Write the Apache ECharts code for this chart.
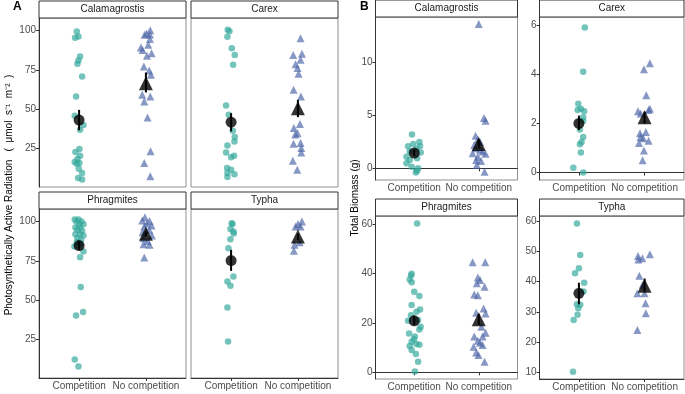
<!DOCTYPE html>
<html><head><meta charset="utf-8">
<script src="https://cdn.jsdelivr.net/npm/echarts@6/dist/echarts.min.js"></script>
<style>html,body{margin:0;padding:0;background:#fff}#c{width:685px;height:394px}</style>
</head><body><div id="c"></div>
<script>
// ---------- categories / labels ----------
const categories = ['Competition', 'No competition'];
const species = ['Calamagrostis', 'Carex', 'Phragmites', 'Typha'];
const titleA = 'Photosynthetically Active Radiation   (  μmol  s⁻¹  m⁻²  )';
const titleB = 'Total Biomass (g)';

// ---------- tick labels ----------
const ticksA = [25, 50, 75, 100];
const ticksBCala = [0, 5, 10];
const ticksBCarex = [0, 2, 4, 6];
const ticksBPhrag = [0, 20, 40, 60];
const ticksBTypha = [10, 20, 30, 40, 50, 60];

// ---------- Panel A: PAR, points as [jitter, value] ----------
const aCalaComp = [[-0.035,99.4],[-0.06,95.5],[-0.01,96.2],[0.015,83.5],[-0.01,81],[-0.025,78.8],[0.045,70.8],[-0.045,58],[-0.065,45.8],[0.065,39.8],[0.015,36.9],[0.005,24.6],[-0.055,22.7],[0.015,20.3],[-0.025,18.2],[-0.065,16.3],[0.005,15.7],[-0.035,15.2],[-0.005,12],[0.045,9.3],[-0.015,6.1],[0.045,5.1]];
const aCalaNo = [[0.065,100.2],[0.01,98.1],[0.06,97.5],[-0.02,97.3],[0.06,94.7],[0.035,90.9],[-0.075,89.2],[-0.05,87.7],[0.085,85.6],[0.015,83.9],[-0.03,77.1],[0.05,74.6],[0.075,71.8],[-0.055,59.1],[0.065,58],[-0.025,54.9],[0.025,44.7],[0.07,23.1],[-0.025,15.7],[0.065,7.2]];
const aCarexComp = [[-0.05,100.5],[-0.025,99.5],[-0.055,96],[0.01,88.8],[0.055,84.5],[0.03,78.2],[-0.075,52.3],[-0.035,46.4],[0.025,36.2],[0.055,32.2],[0.05,29.4],[-0.055,26.9],[-0.075,22.4],[0.045,20.3],[0,19.3],[-0.06,12.5],[0,11.4],[-0.055,9.3],[0.05,8.5],[-0.055,6.8]];
const aCarexNo = [[0.04,95.1],[-0.07,84.5],[0.06,85.2],[0.04,81.4],[-0.035,78.6],[-0.005,76.1],[0.01,72.5],[-0.065,62.3],[0.045,58],[0.03,40.5],[-0.06,37.9],[-0.005,34.7],[-0.04,33.9],[-0.065,28],[0.04,28.4],[0.05,25.2],[0.05,22.4],[-0.075,17.1],[-0.01,11.4]];
const aPhragComp = [[-0.065,101.3],[-0.01,101.3],[-0.04,100],[0.035,100],[0,98.3],[0.065,98.3],[-0.055,96.2],[0.015,96.2],[-0.025,94.7],[0.045,94.1],[-0.055,92],[0.015,92],[0.065,91.1],[-0.025,89.4],[0.03,88.3],[-0.035,86.9],[-0.07,84.1],[0.015,85.6],[0.065,80.9],[0.015,77.3],[0.025,58.3],[-0.045,40.2],[0.06,42.4],[-0.065,12.1],[-0.01,7.8]];
const aPhragNo = [[-0.015,102.8],[-0.055,100.6],[0.055,100.4],[0.015,98.7],[0.085,97.5],[-0.025,96.8],[0.05,94.7],[-0.05,93.2],[0.09,91.1],[-0.035,89.4],[0.025,87.7],[-0.035,85.6],[0.055,85.2],[-0.025,77.1]];
const aTyphaComp = [[0.01,98.9],[0.02,98.5],[-0.01,95.3],[0.035,93.6],[0.04,92.4],[-0.01,88.8],[-0.04,83],[0.035,65],[-0.055,61.9],[-0.01,59.1],[-0.055,45.3],[-0.045,23.7]];
const aTyphaNo = [[0.06,100],[0,98.5],[0.04,96.8],[-0.035,96.8],[0.025,86.9],[-0.05,85.2],[-0.06,81.4]];

// means with error bars: [mean, low, high] for Competition, No competition
const aCalaMean = [[43, 36.5, 49.5], [66.5, 60.6, 73.3]];
const aCarexMean = [[41.7, 35.8, 47.4], [50.6, 44.9, 55.9]];
const aPhragMean = [[84.7, 82, 87.3], [92.2, 90.5, 93.8]];
const aTyphaMean = [[75.2, 68.6, 82], [90.5, 88.3, 92.3]];

// ---------- Panel B: biomass ----------
const bCalaComp = [[-0.035,3.2],[0.08,2.5],[-0.015,2.3],[0.09,2.1],[-0.095,2.1],[0.035,1.85],[-0.07,1.6],[0.1,1.5],[-0.12,1.1],[0.045,0.95],[-0.07,0.8],[-0.12,0.48],[-0.04,0.16],[0.06,0.0],[0.045,-0.22],[0.025,-0.38]];
const bCalaNo = [[0,13.65],[0.08,4.76],[0.105,4.5],[-0.05,3.08],[-0.015,2.7],[0.02,2.5],[-0.07,2.2],[-0.05,1.9],[0.02,1.75],[0.06,1.6],[0.105,1.37],[-0.095,1.43],[-0.015,1.1],[-0.04,0.8],[0.035,0.7],[-0.03,0.32],[0.09,-0.32]];
const bCarexComp = [[0.09,5.9],[0.065,4.1],[-0.01,2.8],[0.03,2.6],[0.08,2.5],[-0.02,2.55],[0.065,2.25],[0.065,2.1],[0.015,1.75],[0.065,1.45],[0.04,1.25],[0.015,1.15],[0.03,0.82],[-0.085,0.2],[0.065,0]];
const bCarexNo = [[0.08,4.45],[-0.01,4.2],[0.025,3.15],[-0.1,2.5],[0.06,2.55],[-0.06,2.4],[0.08,2.6],[0.02,1.65],[-0.07,1.6],[-0.06,1.45],[-0.02,1.4],[0.06,1.3],[-0.085,1.2],[-0.01,0.9],[-0.03,0.5]];
const bPhragComp = [[0.045,60.4],[-0.04,40],[-0.05,39.3],[-0.07,37.6],[-0.04,36.5],[0,32.7],[0.08,31],[-0.04,27.3],[0.09,25.5],[0.035,24.6],[-0.05,23.2],[-0.095,20.9],[0.06,21.2],[0.1,18.5],[0.08,17.4],[-0.08,15.8],[0.01,14.5],[-0.005,13.4],[-0.04,12.4],[0.035,11.5],[0.08,11.2],[-0.07,10.7],[-0.04,9.05],[0.025,7.4],[0.06,4.3],[0.01,0.3]];
const bPhragNo = [[-0.095,44.6],[0.1,44.6],[-0.015,38.5],[0.02,37.4],[-0.03,36.1],[0.09,34.7],[-0.07,31.6],[-0.015,31.3],[0.075,25.9],[-0.04,24.2],[0.105,23.9],[0.04,18.5],[0.105,16.1],[0.06,14.5],[-0.07,14.5],[-0.015,12.8],[0.02,12],[0.06,11.1],[-0.08,10.4],[-0.04,8],[-0.005,7],[0.09,4.3]];
const bTyphaComp = [[-0.03,59.2],[0.02,48.8],[0,44.4],[-0.06,42.7],[0.08,39.6],[0.07,36.7],[-0.03,32.5],[0.02,32.3],[-0.01,31.2],[-0.02,29],[-0.08,27.3],[-0.09,10.2]];
const bTyphaNo = [[-0.1,48.4],[-0.035,47.7],[-0.095,47.3],[0.08,49],[-0.08,41.9],[-0.03,38.9],[-0.11,36.1],[0,36.1],[0.015,32.8],[0.02,29.5],[-0.11,24]];

const bCalaMean = [[1.45, 1.15, 1.75], [2.3, 1.9, 2.7]];
const bCarexMean = [[2.0, 1.73, 2.32], [2.25, 2.0, 2.48]];
const bPhragMean = [[20.9, 19.2, 23.0], [21.5, 19.2, 23.6]];
const bTyphaMean = [[36.1, 32.5, 39.6], [38.6, 36.7, 41.0]];

// ---------- layout (pixels) and styles ----------
const facets = [
  // panel A
  {name: species[0], box: [39, 18, 147, 169], y: [0.4, 108], ticks: ticksA, showX: false, showY: true, comp: aCalaComp, no: aCalaNo, mean: aCalaMean},
  {name: species[1], box: [191, 18, 147, 169], y: [0.4, 108], ticks: ticksA, showX: false, showY: false, comp: aCarexComp, no: aCarexNo, mean: aCarexMean},
  {name: species[2], box: [39, 209, 147, 169], y: [0.4, 108], ticks: ticksA, showX: true, showY: true, comp: aPhragComp, no: aPhragNo, mean: aPhragMean},
  {name: species[3], box: [191, 209, 147, 169], y: [0.4, 108], ticks: ticksA, showX: true, showY: false, comp: aTyphaComp, no: aTyphaNo, mean: aTyphaMean},
  // panel B
  {name: species[0], box: [375.5, 17, 142, 163], y: [-1.1, 14.3], ticks: ticksBCala, showX: true, showY: true, comp: bCalaComp, no: bCalaNo, mean: bCalaMean},
  {name: species[1], box: [539.5, 17, 144.5, 163], y: [-0.3, 6.33], ticks: ticksBCarex, showX: true, showY: true, comp: bCarexComp, no: bCarexNo, mean: bCarexMean},
  {name: species[2], box: [375.5, 216, 142, 163], y: [-2.7, 63.4], ticks: ticksBPhrag, showX: true, showY: true, comp: bPhragComp, no: bPhragNo, mean: bPhragMean},
  {name: species[3], box: [539.5, 216, 144.5, 163], y: [7.8, 61.65], ticks: ticksBTypha, showX: true, showY: true, comp: bTyphaComp, no: bTyphaNo, mean: bTyphaMean}
];
const stripH = 17;
const FONT = '"Liberation Sans", Arial, sans-serif';
const tealCol = 'rgba(52,168,155,0.85)';
const blueCol = 'rgba(72,98,165,0.82)';
const labelCol = '#4d4d4d';

const grids = [], xAxes = [], yAxes = [], series = [], graphics = [];
facets.forEach((f, i) => {
  const [l, t, w, h] = f.box;
  grids.push({left: l, top: t, width: w, height: h, show: true, borderColor: '#8f8f8f', borderWidth: 1, containLabel: false});
  xAxes.push({
    type: 'value', gridIndex: i, min: 0.4, max: 2.6,
    splitLine: {show: false},
    axisLine: {show: f.showX, lineStyle: {color: '#333', width: 1}},
    axisTick: {show: f.showX, length: 3, customValues: [1, 2], lineStyle: {color: '#333'}},
    axisLabel: {show: f.showX, customValues: [1, 2], margin: 3, color: labelCol, fontSize: 10, fontFamily: FONT,
      formatter: v => categories[Math.round(v) - 1]}
  });
  yAxes.push({
    type: 'value', gridIndex: i, min: f.y[0], max: f.y[1],
    splitLine: {show: false},
    axisLine: {show: f.showY, lineStyle: {color: '#333', width: 1}},
    axisTick: {show: f.showY, length: 3, customValues: f.ticks, lineStyle: {color: '#333'}},
    axisLabel: {show: f.showY, customValues: f.ticks, margin: 3, color: labelCol, fontSize: 10, fontFamily: FONT}
  });
  series.push({type: 'scatter', xAxisIndex: i, yAxisIndex: i, symbol: 'circle', symbolSize: 6.5,
    itemStyle: {color: tealCol}, data: f.comp.map(p => [1 + p[0], p[1]]), silent: true});
  series.push({type: 'scatter', xAxisIndex: i, yAxisIndex: i, symbol: 'triangle', symbolSize: 8,
    itemStyle: {color: blueCol}, data: f.no.map(p => [2 + p[0], p[1]]), silent: true});
  series.push({type: 'custom', xAxisIndex: i, yAxisIndex: i, silent: true, z: 3,
    data: f.mean.map((m, k) => [k + 1, m[1], m[2]]),
    encode: {x: 0, y: [1, 2]},
    renderItem: (params, api) => {
      const a = api.coord([api.value(0), api.value(1)]);
      const b = api.coord([api.value(0), api.value(2)]);
      return {type: 'line', shape: {x1: a[0], y1: a[1], x2: b[0], y2: b[1]}, style: {stroke: '#000', lineWidth: 2}};
    }});
  series.push({type: 'scatter', xAxisIndex: i, yAxisIndex: i, symbol: 'circle', symbolSize: 11, z: 4, silent: true,
    itemStyle: {color: '#000'}, data: [[1, f.mean[0][0]]]});
  series.push({type: 'scatter', xAxisIndex: i, yAxisIndex: i, symbol: 'triangle', symbolSize: 14, z: 4, silent: true,
    itemStyle: {color: '#000'}, data: [[2, f.mean[1][0]]]});
  // strip header
  graphics.push({type: 'rect', shape: {x: l, y: t - stripH, width: w, height: stripH},
    style: {fill: '#fff', stroke: '#333', lineWidth: 1}});
  graphics.push({type: 'text', x: l + w / 2, y: t - stripH / 2,
    style: {text: f.name, fill: '#1a1a1a', font: '10px ' + FONT, textAlign: 'center', textVerticalAlign: 'middle'}});
});

graphics.push({type: 'text', x: 13, y: 1, style: {text: 'A', fill: '#000', font: 'bold 12px ' + FONT, textAlign: 'left', textVerticalAlign: 'top'}});
graphics.push({type: 'text', x: 360, y: 1, style: {text: 'B', fill: '#000', font: 'bold 12px ' + FONT, textAlign: 'left', textVerticalAlign: 'top'}});
graphics.push({type: 'text', x: 9, y: 195, rotation: Math.PI / 2,
  style: {text: titleA, fill: '#000', font: '10px ' + FONT, textAlign: 'center', textVerticalAlign: 'middle'}});
graphics.push({type: 'text', x: 355, y: 198, rotation: Math.PI / 2,
  style: {text: titleB, fill: '#000', font: '10px ' + FONT, textAlign: 'center', textVerticalAlign: 'middle'}});

const chart = echarts.init(document.getElementById('c'), null, {renderer: 'canvas'});
chart.setOption({
  animation: false,
  backgroundColor: '#fff',
  grid: grids, xAxis: xAxes, yAxis: yAxes, series: series,
  graphic: {elements: graphics}
});
</script>
</body></html>
